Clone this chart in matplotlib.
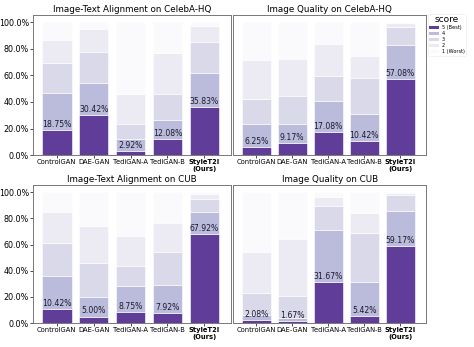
import numpy as np
import matplotlib
matplotlib.use('Agg')
import matplotlib.pyplot as plt
from matplotlib.patches import Patch

# ── data (percent of votes per score) ─────────────────────
methods = ['ControlGAN', 'DAE-GAN', 'TediGAN-A', 'TediGAN-B', 'StyleT2I\n(Ours)']
titles = ['Image-Text Alignment on CelebA-HQ', 'Image Quality on CelebA-HQ',
          'Image-Text Alignment on CUB', 'Image Quality on CUB']
score_names = ['5 (Best)', '4', '3', '2', '1 (Worst)']

# celeba alignment
ca_s5 = [18.75, 30.42, 2.92, 12.08, 35.83]
ca_s4 = [27.75, 23.75, 9.17, 14.17, 26.25]
ca_s3 = [23.00, 23.33, 11.25, 19.58, 22.92]
ca_s2 = [17.50, 17.08, 22.92, 31.25, 12.08]
# celeba quality
cq_s5 = [6.25, 9.17, 17.08, 10.42, 57.08]
cq_s4 = [17.08, 14.17, 23.33, 20.42, 25.42]
cq_s3 = [19.17, 20.83, 19.17, 27.08, 13.75]
cq_s2 = [28.75, 28.33, 24.17, 16.67, 2.92]
# cub alignment
ba_s5 = [10.42, 5.00, 8.75, 7.92, 67.92]
ba_s4 = [25.83, 15.00, 19.58, 21.25, 17.08]
ba_s3 = [25.00, 26.25, 15.42, 25.00, 9.58]
ba_s2 = [23.33, 27.92, 22.92, 22.08, 3.75]
# cub quality
bq_s5 = [2.08, 1.67, 31.67, 5.42, 59.17]
bq_s4 = [4.17, 2.50, 39.58, 25.83, 26.25]
bq_s3 = [17.08, 16.67, 17.92, 37.92, 12.08]
bq_s2 = [31.25, 43.75, 7.50, 15.00, 2.08]

panels = [
    [ca_s5, ca_s4, ca_s3, ca_s2],
    [cq_s5, cq_s4, cq_s3, cq_s2],
    [ba_s5, ba_s4, ba_s3, ba_s2],
    [bq_s5, bq_s4, bq_s3, bq_s2],
]
colors = ['#5f3d99', '#bbbbdb', '#dad9ea', '#ecebf3', '#fafafc']

# ── figure ───────────────────────────────────────────
fig = plt.figure(figsize=(4.74, 3.47), dpi=100)
rects = [
    [0.070, 0.553, 0.417, 0.404],
    [0.492, 0.553, 0.407, 0.404],
    [0.070, 0.069, 0.417, 0.398],
    [0.492, 0.069, 0.407, 0.398],
]

x = np.arange(len(methods))
for i, (segs, rect) in enumerate(zip(panels, rects)):
    ax = fig.add_axes(rect)
    segs = [np.array(s) for s in segs]
    segs.append(100 - sum(segs))         # score 1 = remainder
    bottom = np.zeros(len(methods))
    for s, c in zip(segs, colors):
        ax.bar(x, s, 0.8, bottom=bottom, color=c, edgecolor='white', linewidth=0.4)
        bottom += s
    for xi, v in zip(x, segs[0]):
        ax.text(xi, v + 0.8, f'{v:.2f}%', ha='center', va='bottom',
                fontsize=5.6, color='#1a1a2e')
    ax.set_xlim(-0.64, 4.72)
    ax.set_ylim(0, 105.5)
    ax.set_title(titles[i], fontsize=6.3, pad=2)
    ax.set_xticks(x)
    ax.set_xticklabels(methods, fontsize=4.9)
    ax.get_xticklabels()[-1].set_fontweight('bold')
    ax.tick_params(axis='x', length=2, pad=1, width=0.5)
    ax.set_yticks(np.arange(0, 101, 20))
    if i % 2 == 0:
        ax.set_yticklabels([f'{v:.1f}%' for v in range(0, 101, 20)], fontsize=5.8)
        ax.tick_params(axis='y', length=2, pad=1, width=0.5)
    else:
        ax.tick_params(axis='y', left=False, labelleft=False)
    for sp in ax.spines.values():
        sp.set_color('#777777')
        sp.set_linewidth(0.7)

    if i == 1:
        handles = [Patch(facecolor=c, label=n) for c, n in zip(colors, score_names)]
        leg = ax.legend(handles=handles, title='score', loc='upper left',
                        bbox_to_anchor=(1.0, 1.02), fontsize=3.6, title_fontsize=6.5,
                        handlelength=2.0, handleheight=0.6, labelspacing=0.2,
                        handletextpad=0.5, frameon=True, borderpad=0.3,
                        borderaxespad=0.3)
        leg.get_frame().set_edgecolor('#e6e6e6')
        leg.get_frame().set_linewidth(0.4)

fig.savefig('out.png', dpi=100)
